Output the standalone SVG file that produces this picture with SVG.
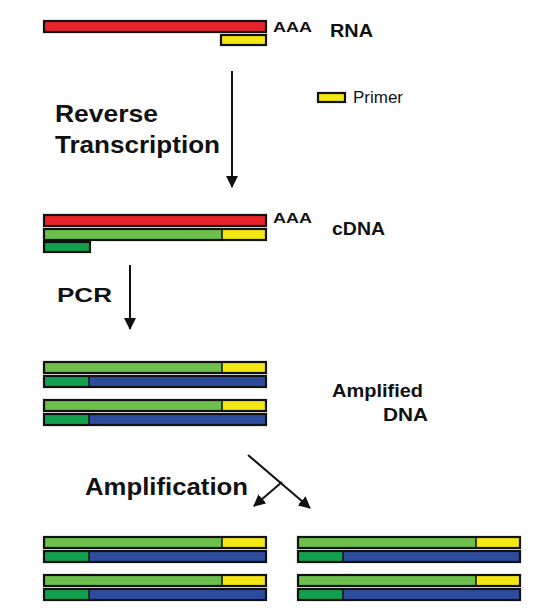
<svg xmlns="http://www.w3.org/2000/svg" width="557" height="616" viewBox="0 0 557 616">
<defs>
<style>
.o{fill:none;stroke:#111;stroke-width:2.2}
.r{fill:#e8232b}.y{fill:#f3e814}.g{fill:#6bbf4a}.d{fill:#11a04c}.b{fill:#2d4c9e}
.t{font-family:"Liberation Sans",Arial,sans-serif;font-weight:bold;fill:#111}
.div{stroke:#111;stroke-width:1.5}
.ln{stroke:#111;stroke-width:2;fill:none}
</style>
<marker id="ah2" viewBox="0 0 12 12" refX="11" refY="6" markerWidth="12" markerHeight="12" orient="auto" markerUnits="userSpaceOnUse">
<path d="M0,0 L12,6 L0,12 z" fill="#111"/>
</marker>
<g id="pair">
<rect class="g" x="44" y="0" width="178" height="11"/>
<rect class="y" x="222" y="0" width="44" height="11"/>
<line class="div" x1="222" y1="0" x2="222" y2="11"/>
<rect class="o" x="44" y="0" width="222" height="11"/>
<rect class="d" x="44" y="14" width="45" height="11"/>
<rect class="b" x="89" y="14" width="177" height="11"/>
<line class="div" x1="89" y1="14" x2="89" y2="25"/>
<rect class="o" x="44" y="14" width="222" height="11"/>
</g>
</defs>

<g id="rna">
<rect x="44" y="21" width="222" height="11" style="fill:#e8232b;stroke:#111;stroke-width:2.2"/>
<rect x="221" y="35" width="45" height="10" style="fill:#f3e814;stroke:#111;stroke-width:2.2"/>
<text class="t" x="273" y="32" font-size="14" textLength="39" lengthAdjust="spacingAndGlyphs">AAA</text>
<text class="t" x="330" y="37" font-size="18" textLength="43" lengthAdjust="spacingAndGlyphs">RNA</text>
</g>

<g id="legend">
<rect x="318" y="93" width="27" height="9" style="fill:#f3e814;stroke:#111;stroke-width:2.2"/>
<text x="353" y="103" font-size="16" textLength="50" lengthAdjust="spacingAndGlyphs" font-family="Liberation Sans,Arial,sans-serif" fill="#111">Primer</text>
</g>

<g id="rt-label">
<text class="t" x="55" y="122" font-size="23.5" textLength="103" lengthAdjust="spacingAndGlyphs">Reverse</text>
<text class="t" x="55" y="153" font-size="23.5" textLength="165" lengthAdjust="spacingAndGlyphs">Transcription</text>
</g>

<g id="cdna">
<rect x="44" y="215" width="222" height="11" style="fill:#e8232b;stroke:#111;stroke-width:2.2"/>
<rect class="g" x="44" y="229" width="178" height="11"/>
<rect class="y" x="222" y="229" width="44" height="11"/>
<line class="div" x1="222" y1="229" x2="222" y2="240"/>
<rect class="o" x="44" y="229" width="222" height="11"/>
<rect x="44" y="242" width="46" height="10" style="fill:#11a04c;stroke:#111;stroke-width:2.2"/>
<text class="t" x="273" y="223" font-size="14" textLength="39" lengthAdjust="spacingAndGlyphs">AAA</text>
<text class="t" x="332" y="235" font-size="18" textLength="53" lengthAdjust="spacingAndGlyphs">cDNA</text>
</g>

<g id="pcr-label">
<text class="t" x="57" y="302" font-size="21" textLength="55" lengthAdjust="spacingAndGlyphs">PCR</text>
</g>

<g id="amplified">
<use href="#pair" y="362"/>
<use href="#pair" y="400"/>
<text class="t" x="332" y="397" font-size="18" textLength="91" lengthAdjust="spacingAndGlyphs">Amplified</text>
<text class="t" x="383" y="421" font-size="18" textLength="45" lengthAdjust="spacingAndGlyphs">DNA</text>
</g>

<g id="amp-label">
<text class="t" x="85" y="495" font-size="23" textLength="163" lengthAdjust="spacingAndGlyphs">Amplification</text>
</g>

<g id="final">
<use href="#pair" y="537"/>
<use href="#pair" y="575"/>
<use href="#pair" x="254" y="537"/>
<use href="#pair" x="254" y="575"/>
</g>

<g id="connectors">
<line class="ln" x1="232" y1="71" x2="232" y2="187" marker-end="url(#ah2)"/>
<line class="ln" x1="130" y1="265" x2="130" y2="329" marker-end="url(#ah2)"/>
<line class="ln" x1="248" y1="455" x2="310" y2="508" marker-end="url(#ah2)"/>
<line class="ln" x1="282" y1="482" x2="254" y2="506" marker-end="url(#ah2)"/>
</g>
</svg>
